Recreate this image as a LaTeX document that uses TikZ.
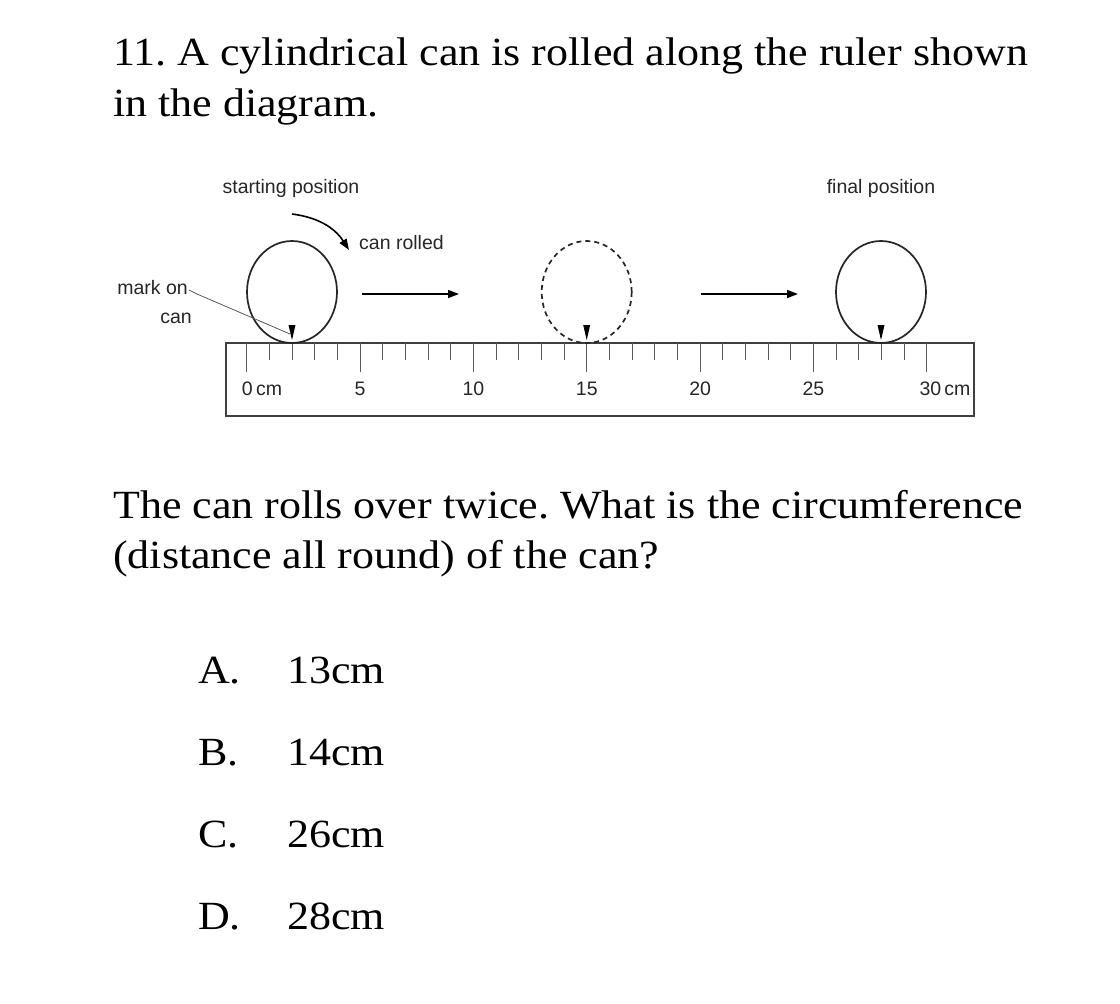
\documentclass[tikz,border=0pt]{standalone}
\usepackage{fontspec}
\setmainfont[FakeStretch=1.1]{Liberation Serif}
\setsansfont{Liberation Sans}
\usetikzlibrary{arrows.meta}
\frenchspacing
\begin{document}
\begin{tikzpicture}[x=1pt,y=-1pt,
  qtext/.style={anchor=base west,inner sep=0,font=\fontsize{40}{46}\selectfont},
  lab/.style={inner sep=0,font=\sffamily\fontsize{19.5}{22}\selectfont,text=black!85},
  tk/.style={line width=1pt,black!65},
  can/.style={line width=1.7pt,black!85},
  mk/.style={fill=black,draw=none}]
\useasboundingbox (0,0) rectangle (1120,1004);
\node[qtext] (t1) at (113,65) {11. A cylindrical can is rolled along the ruler shown};
\node[qtext] (t2) at (113,116) {in the diagram.};
\node[qtext] (t3) at (113,518) {The can rolls over twice. What is the circumference};
\node[qtext] (t4) at (113,568) {(distance all round) of the can?};
\foreach \l/\v/\y in {A./13cm/683,B./14cm/765,C./26cm/847,D./28cm/929}{
  \node[qtext] at (198,\y) {\l};
  \node[qtext] at (287,\y) {\v};
}
% ruler
\draw[line width=1.5pt,black!75] (226,343) rectangle (974,416);
\foreach \i in {0,...,30}{
  \pgfmathsetmacro\xx{246.7+22.67*\i}
  \pgfmathtruncatemacro\r{mod(\i,5)}
  \ifnum\r=0 \draw[tk] (\xx,343) -- (\xx,372); \else \draw[tk] (\xx,343) -- (\xx,360); \fi
}
\node[lab] (l0) at (262,389) {0\,cm};
\foreach \i in {5,10,15,20,25}{
  \node[lab] at (246.7+22.67*\i,389) {\i};
}
\node[lab] (l30) at (945,389) {30\,cm};
% cans
\draw[can] (292,292) ellipse [x radius=45,y radius=51];
\draw[can,dash pattern=on 5pt off 4pt] (586.7,292) ellipse [x radius=45,y radius=51];
\draw[can] (881,292) ellipse [x radius=45,y radius=51];
\foreach \xx in {292,586.7,881}{
  \fill[mk] (\xx-3.5,325) -- (\xx+3.5,325) -- (\xx,340) -- cycle;
}
% arrows
\coordinate (a1s) at (362,294); \coordinate (a1e) at (459,294);
\coordinate (a2s) at (701,294); \coordinate (a2e) at (798,294);
\draw[line width=1.6pt,-{Triangle[length=11pt,width=8pt]}] (a1s) -- (a1e);
\draw[line width=1.6pt,-{Triangle[length=11pt,width=8pt]}] (a2s) -- (a2e);
\coordinate (cs) at (292,214); \coordinate (ce) at (349,250);
\draw[line width=1.6pt,-{Triangle[length=11pt,width=8pt]}] (cs) to[bend left=25] (ce);
% labels
\node[lab] (sp) at (291,188) {starting position};
\node[lab] (fp) at (881,188) {final position};
\node[lab,anchor=west] (cr) at (359,243) {can rolled};
\node[lab,anchor=east] (mo) at (188,288) {mark on};
\node[lab] (mc) at (176,318) {can};
\coordinate (me) at (290,334);
\draw[line width=0.8pt,black!65] (mo.east) ++(1,2) -- ++(8,4) -- (me);
\end{tikzpicture}
\end{document}
